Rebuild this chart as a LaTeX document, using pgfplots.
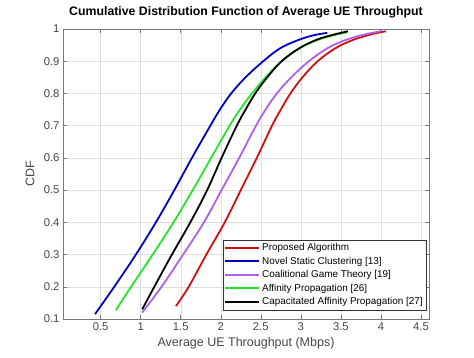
\documentclass[border=0pt]{standalone}
\usepackage{pgfplots}
\pgfplotsset{compat=1.18}
\usepackage{fontspec}
\setmainfont{Liberation Sans}
\definecolor{cred}{RGB}{208,16,16}
\definecolor{cblue}{RGB}{0,0,192}
\definecolor{cpurple}{RGB}{176,96,228}
\definecolor{cgreen}{RGB}{40,228,40}
\definecolor{axgray}{RGB}{120,120,120}
\definecolor{txtgray}{RGB}{70,70,70}
\begin{document}
\begin{tikzpicture}
\path[use as bounding box] (-63pt,-39pt) rectangle (411pt,319pt);
\begin{axis}[
  scale only axis, width=366pt, height=290pt,
  xmin=0.03, xmax=4.6, ymin=0.1, ymax=1,
  xtick={0.5,1,1.5,2,2.5,3,3.5,4,4.5},
  ytick={0.1,0.2,0.3,0.4,0.5,0.6,0.7,0.8,0.9,1},
  /pgf/number format/assume math mode=true,
  tick label style={font=\fontsize{11.3}{13}\selectfont, text=txtgray},
  tick align=inside, tick pos=both,
  major tick length=4pt,
  tick style={axgray, line width=0.5pt},
  axis line style={axgray, line width=0.6pt},
  grid=major, grid style={gray!25, line width=0.4pt},
  xlabel={Average UE Throughput (Mbps)},
  ylabel={CDF},
  label style={font=\fontsize{12.5}{14}\selectfont, text=txtgray},
  xlabel style={at={(axis description cs:0.5,-0.083)}, anchor=center},
  ylabel style={at={(axis description cs:-0.09,0.5)}, anchor=center},
  title={\textbf{Cumulative Distribution Function of Average UE Throughput}},
  title style={font=\fontsize{12.3}{14}\selectfont, at={(0.5,1)}, anchor=south, yshift=1pt},
  legend style={at={(0.993,0.031)}, anchor=south east, draw=black!80, line width=0.5pt,
    fill=white, font=\fontsize{9.9}{11}\selectfont, inner sep=1.5pt,
    row sep=0.9pt, cells={anchor=west}},
  legend image code/.code={\draw[#1] (0pt,0pt) -- (34pt,0pt);},
  every axis plot/.append style={line width=1.8pt, smooth, tension=0.6},
]
\addplot[cred] coordinates {(1.44,0.14)(1.6,0.2)(1.82,0.3)(2.05,0.4)(2.25,0.5)(2.45,0.6)(2.64,0.7)(2.75,0.75)(2.87,0.8)(3.02,0.85)(3.21,0.9)(3.43,0.94)(3.64,0.965)(3.86,0.982)(4.06,0.993)};
\addlegendentry{Proposed Algorithm}
\addplot[cblue] coordinates {(0.43,0.115)(0.67,0.2)(0.94,0.3)(1.19,0.4)(1.42,0.5)(1.64,0.6)(1.87,0.7)(1.99,0.75)(2.13,0.8)(2.31,0.85)(2.53,0.9)(2.74,0.94)(2.96,0.965)(3.15,0.98)(3.33,0.988)};
\addlegendentry{Novel Static Clustering [13]}
\addplot[cpurple] coordinates {(1.02,0.12)(1.26,0.2)(1.53,0.3)(1.79,0.4)(2.01,0.5)(2.23,0.6)(2.44,0.7)(2.56,0.75)(2.70,0.8)(2.88,0.85)(3.1,0.9)(3.33,0.94)(3.55,0.965)(3.78,0.982)(4.0,0.993)};
\addlegendentry{Coalitional Game Theory [19]}
\addplot[cgreen] coordinates {(0.69,0.127)(0.88,0.2)(1.15,0.3)(1.41,0.4)(1.65,0.5)(1.88,0.6)(2.11,0.7)(2.24,0.75)(2.39,0.8)(2.56,0.85)(2.76,0.9)(2.98,0.94)(3.2,0.965)(3.4,0.98)(3.58,0.99)};
\addlegendentry{Affinity Propagation [26]}
\addplot[black] coordinates {(1.02,0.13)(1.17,0.2)(1.39,0.3)(1.62,0.4)(1.83,0.5)(2.01,0.6)(2.2,0.7)(2.31,0.75)(2.43,0.8)(2.58,0.85)(2.76,0.9)(2.98,0.94)(3.2,0.967)(3.4,0.982)(3.59,0.993)};
\addlegendentry{Capacitated Affinity Propagation [27]}
\end{axis}
\end{tikzpicture}
\end{document}
